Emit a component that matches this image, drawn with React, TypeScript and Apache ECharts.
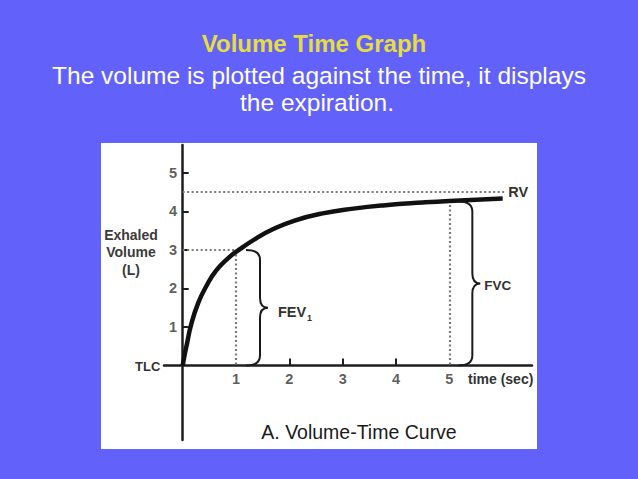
import React, { useEffect, useRef } from "react";
import * as echarts from "echarts";

// ---- data ----
const timeSec = [0, 0.04, 0.08, 0.16, 0.29, 0.44, 0.63, 0.88, 1.0, 1.38, 1.7, 2.1, 2.6, 3.2, 3.8, 4.5, 5.0, 6.0];
const volumeL = [0, 0.3, 0.56, 1.07, 1.62, 2.05, 2.47, 2.82, 2.95, 3.3, 3.54, 3.76, 3.94, 4.07, 4.16, 4.23, 4.27, 4.33];
const xTickLabels = [1, 2, 3, 4, 5];
const xTickMarks = [2, 3, 4];
const yTickLabels = [1, 2, 3, 4, 5];
const rvVolume = 4.5;
const rvLineEnd = 6.03;
const fev1Time = 1;
const fev1Volume = 3;
const fvcTime = 5;
const fvcVolume = 4.28;

const FONT = "'Liberation Sans', Arial, Helvetica, sans-serif";

const Brace = echarts.graphic.extendShape({
  type: "brace",
  shape: { x0: 0, xb: 0, xt: 0, y1: 0, y2: 0, r: 8 },
  buildPath(ctx: any, s: any) {
    const ym = (s.y1 + s.y2) / 2;
    ctx.moveTo(s.x0, s.y1);
    ctx.quadraticCurveTo(s.xb, s.y1, s.xb, s.y1 + s.r);
    ctx.lineTo(s.xb, ym - s.r);
    ctx.quadraticCurveTo(s.xb, ym, s.xt, ym);
    ctx.quadraticCurveTo(s.xb, ym, s.xb, ym + s.r);
    ctx.lineTo(s.xb, s.y2 - s.r);
    ctx.quadraticCurveTo(s.xb, s.y2, s.x0, s.y2);
  },
});
echarts.graphic.registerShape("brace", Brace as any);

export default function App() {
  const ref = useRef<HTMLDivElement>(null);
  useEffect(() => {
    if (!ref.current) return;
    const chart = echarts.init(ref.current, undefined, { renderer: "svg" });
    const dotted = { type: [2, 2.5] as any, color: "#7a7a7a", width: 2.2 };
    const tickLabelStyle = { fontSize: 14.5, fontWeight: "bold", color: "#333", fontFamily: FONT };
    const labelSeries = (data: number[][], position: string, distance: number, idx: number) => ({
      type: "scatter",
      silent: true,
      symbolSize: 1,
      itemStyle: { color: "rgba(0,0,0,0)" },
      data,
      label: { show: true, position, distance, formatter: (p: any) => String(p.value[idx]), ...tickLabelStyle },
    });
    chart.setOption({
      animation: false,
      backgroundColor: "#6262fa",
      grid: { left: 164, width: 368, top: 145, height: 295, containLabel: false },
      xAxis: {
        type: "value",
        min: -0.35,
        max: 6.55,
        splitLine: { show: false },
        axisLine: { onZero: true, lineStyle: { color: "#1e1e1e", width: 2.5 } },
        axisTick: { show: true, inside: true, length: 7, customValues: xTickMarks, lineStyle: { color: "#1e1e1e", width: 2 } },
        axisLabel: { show: false },
      },
      yAxis: {
        type: "value",
        min: -1.93,
        max: 5.72,
        splitLine: { show: false },
        axisLine: { onZero: true, lineStyle: { color: "#1e1e1e", width: 2.5 } },
        axisTick: { show: true, inside: true, length: 6, customValues: yTickLabels, lineStyle: { color: "#1e1e1e", width: 2 } },
        axisLabel: { show: false },
      },
      series: [
        {
          type: "line",
          data: timeSec.map((t, i) => [t, volumeL[i]]),
          smooth: 0.5,
          showSymbol: false,
          lineStyle: { color: "#111", width: 4.5 },
          z: 5,
          silent: true,
          markLine: {
            silent: true,
            symbol: "none",
            lineStyle: dotted,
            label: { show: false },
            emphasis: { disabled: true },
            data: [
              [
                {
                  coord: [0, rvVolume],
                  label: { show: true, position: "end", formatter: "RV", distance: 4, ...tickLabelStyle },
                },
                { coord: [rvLineEnd, rvVolume] },
              ],
              [{ coord: [0, fev1Volume] }, { coord: [fev1Time, fev1Volume] }],
              [{ coord: [fev1Time, fev1Volume] }, { coord: [fev1Time, 0] }],
              [{ coord: [fvcTime, fvcVolume] }, { coord: [fvcTime, 0] }],
            ],
          },
        },
        labelSeries(xTickLabels.map((v) => [v, 0]), "bottom", 5, 0),
        labelSeries(yTickLabels.map((v) => [0, v]), "left", 5, 1),
      ],
    });

    const px = (x: number, y: number) => chart.convertToPixel({ gridIndex: 0 }, [x, y]) as number[];
    const o = px(0, 0);
    const fevTop = px(fev1Time, fev1Volume);
    const fvcTop = px(fvcTime, fvcVolume);
    const fevMid = (fevTop[1] + o[1]) / 2;
    const fvcMid = (fvcTop[1] + o[1]) / 2;
    const braceStyle = { fill: "none", stroke: "#1a1a1a", lineWidth: 2 };
    const txt = (id: string, x: number, y: number, text: string, extra: any) => ({
      type: "text",
      id,
      x,
      y,
      z: 20,
      silent: true,
      style: { text, fontFamily: FONT, textVerticalAlign: "middle", verticalAlign: "middle", ...extra },
    });

    chart.setOption({
      graphic: [
        { type: "rect", id: "panel", z: -10, silent: true, shape: { x: 101, y: 143, width: 436, height: 306 }, style: { fill: "#ffffff" } },
        txt("title", 314, 43, "Volume Time Graph", { fontSize: 24, fontWeight: "bold", fill: "#e6dd3e", align: "center", textAlign: "center" }),
        txt("sub1", 319, 75, "The volume is plotted against the time, it displays", { fontSize: 24.5, fill: "#ffffff", align: "center", textAlign: "center" }),
        txt("sub2", 317, 102, "the expiration.", { fontSize: 24.5, fill: "#ffffff", align: "center", textAlign: "center" }),
        txt("yname", 131, 252, "Exhaled\nVolume\n(L)", { fontSize: 14, fontWeight: "bold", fill: "#3a3a3a", align: "center", textAlign: "center", lineHeight: 17.5 }),
        txt("tlc", o[0] - 35, o[1] + 1, "TLC", { fontSize: 13, fontWeight: "bold", fill: "#333", align: "center", textAlign: "center" }),
        txt("xname", 468, o[1] + 13, "time (sec)", { fontSize: 14, fontWeight: "bold", fill: "#333", align: "left", textAlign: "left" }),
        txt("caption", 359, 432, "A. Volume-Time Curve", { fontSize: 19.5, fill: "#1a1a1a", align: "center", textAlign: "center" }),
        {
          type: "brace",
          id: "fevBrace",
          z: 20,
          silent: true,
          shape: { x0: fevTop[0] + 10, xb: fevTop[0] + 24, xt: fevTop[0] + 32, y1: fevTop[1], y2: o[1], r: 10 },
          style: braceStyle,
        },
        {
          type: "brace",
          id: "fvcBrace",
          z: 20,
          silent: true,
          shape: { x0: fvcTop[0] + 9, xb: fvcTop[0] + 23, xt: fvcTop[0] + 31, y1: fvcTop[1] + 1, y2: o[1], r: 10 },
          style: braceStyle,
        },
        txt("fev", fevTop[0] + 42, fevMid + 4, "FEV", { fontSize: 14.5, fontWeight: "bold", fill: "#333", align: "left", textAlign: "left" }),
        txt("fevSub", fevTop[0] + 71, fevMid + 10, "1", { fontSize: 9, fontWeight: "bold", fill: "#333", align: "left", textAlign: "left" }),
        txt("fvc", fvcTop[0] + 35, fvcMid + 2, "FVC", { fontSize: 13.5, fontWeight: "bold", fill: "#333", align: "left", textAlign: "left" }),
      ],
    });

    return () => chart.dispose();
  }, []);
  return <div ref={ref} style={{ position: "fixed", left: 0, top: 0, width: 638, height: 479 }} />;
}
